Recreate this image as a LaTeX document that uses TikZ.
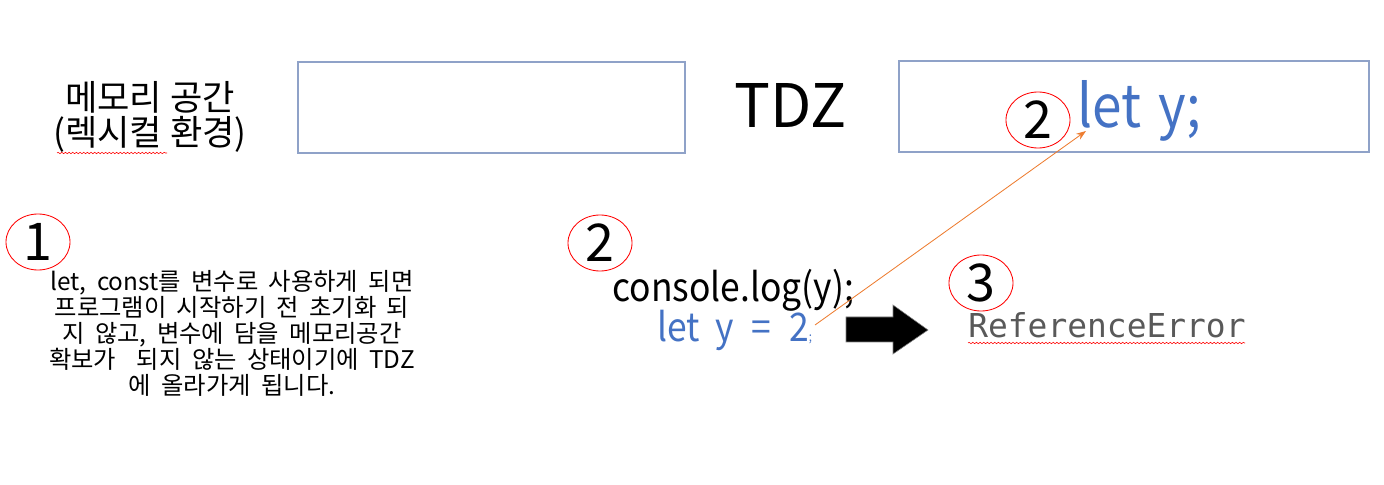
\documentclass[tikz,border=0pt]{standalone}
\usepackage{fontspec}
\setmainfont{Noto Sans CJK KR}
\newfontfamily\narrowfont[FakeStretch=0.9]{Noto Sans CJK KR}
\newfontfamily\widespaced[WordSpace=1.9]{Noto Sans CJK KR}
\newfontfamily\codefont{DejaVu Sans Mono}
\usetikzlibrary{shapes.geometric,decorations.pathmorphing,arrows.meta}
\definecolor{boxline}{HTML}{8FA2C8}
\definecolor{codeblue}{HTML}{4472C4}
\definecolor{linkorange}{HTML}{ED7D31}
\definecolor{errgray}{HTML}{595959}
\tikzset{
  memframe/.style={draw=boxline, line width=1pt},
  stepmark/.style={ellipse, draw=red, line width=0.6pt, minimum width=1.6cm,
    minimum height=1.4cm, inner sep=0pt, font=\fontsize{37}{37}\selectfont},
  squiggle/.style={red, line width=0.4pt, decorate,
    decoration={snake, amplitude=0.5pt, segment length=2.6pt}},
  plain/.style={inner sep=0pt, anchor=base west},
}
\begin{document}
\begin{tikzpicture}[x=0.025cm, y=-0.025cm]
  \useasboundingbox (0,0) rectangle (1384,485);
  % memory boxes
  \draw[memframe] (298,62) rectangle (685,153);
  \draw[memframe] (899,61) rectangle (1369,152);
  \draw
    (150,117) node[align=center, font=\fontsize{25}{25}\selectfont] (memlabel)
      {메모리 공간\\(렉시컬 환경)}
    (791,105) node[font=\fontsize{42.7}{43}\selectfont] (tdz) {TDZ}
    (38,242) node[stepmark] (mark1) {1}
    (600,243) node[stepmark] (mark2) {2}
    (981,283) node[stepmark] (mark3) {3}
    (1038,120) node[stepmark] (mark2b) {2};
  \draw[squiggle] (57,153) -- (167,153);
  % explanation
  \node[align=center, font=\widespaced\fontsize{17.3}{18.5}\selectfont] (note) at (232,333)
    {let, const를 변수로 사용하게 되면\\프로그램이 시작하기 전 초기화 되\\지 않고, 변수에 담을 메모리공간\\확보가 \ 되지 않는 상태이기에 TDZ\\에 올라가게 됩니다.};
  % code
  \node[plain, font=\narrowfont\fontsize{28}{28}\selectfont] (logline) at (612,302) {console.log(y);};
  \node[plain, codeblue, font=\narrowfont\fontsize{28}{28}\selectfont] (letline) at (657,342)
    {let\hspace{0.4em}y\hspace{0.45em}=\hspace{0.45em}2{\fontsize{9}{9}\selectfont;}};
  \node[plain, codeblue, font=\narrowfont\fontsize{42}{42}\selectfont] (letdecl) at (1077,128)
    {let\hspace{0.3em}y;};
  \node[plain, errgray, font=\codefont\fontsize{23.4}{23}\selectfont] (refErr) at (968,338) {ReferenceError};
  \draw[squiggle] (968,343) -- (1245,343);
  % block arrow
  \draw[fill=black, draw=gray, line width=0.4pt]
    (846,317) -- (893,317) -- (893,305) -- (928,330) -- (893,354) -- (893,342) -- (846,342) -- cycle;
  % hoisting link
  \coordinate (linktail) at (815,325);
  \coordinate (linkhead) at (1086,131);
  \draw[linkorange, line width=0.6pt, -{Stealth[length=7pt, width=5pt]}] (linktail) -- (linkhead);
\end{tikzpicture}
\end{document}
